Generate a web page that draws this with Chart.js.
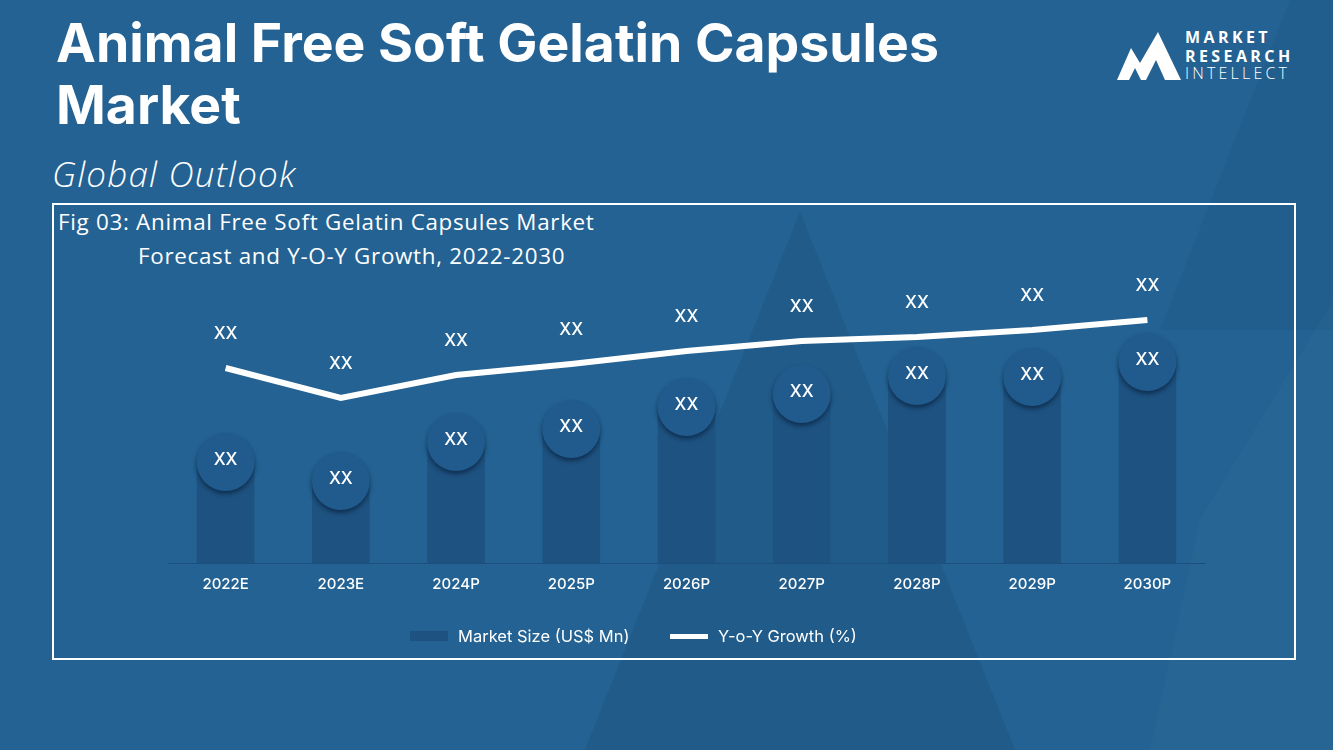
<!doctype html>
<html>
  <head>
    <title>Animal Free Soft Gelatin Capsules Market</title>
    <script src="https://cdn.jsdelivr.net/npm/chart.js@4.4.1/dist/chart.umd.min.js"></script>
    <style>
      html, body { margin: 0; padding: 0; }
      body { width: 1333px; height: 750px; overflow: hidden; position: relative; background: #236292; font-family: Inter, sans-serif; color: #fff; }
      #bg { position: absolute; left: 0; top: 0; }
      #title { position: absolute; left: 56px; top: 12px; font-family: Inter, sans-serif; font-weight: 700; font-size: 53.5px; line-height: 62px; letter-spacing: 0; }
      #outlook { position: absolute; left: 52px; top: 150px; font-family: "Open Sans", sans-serif; font-style: italic; font-weight: 300; font-size: 35px; letter-spacing: 1.2px; }
      #box { position: absolute; left: 52px; top: 203px; width: 1240px; height: 453px; border: 2px solid #fff; }
      #fig { position: absolute; left: 58px; top: 205px; font-family: "Open Sans", sans-serif; font-size: 22.4px; line-height: 34px; letter-spacing: 0.7px; }
      #logo { position: absolute; left: 1110px; top: 22px; }
      #chart { position: absolute; left: 0; top: 0; }
      .legend { position: absolute; top: 624px; font-size: 16.5px; line-height: 24px; }
      .sw { position: absolute; }
    </style>
  </head>
  <body>
    <svg id="bg" width="1333" height="750">
      <polygon points="800,212 585,750 1015,750" fill="rgba(18,55,95,0.16)" />
      <polygon points="1290,0 1333,0 1333,330 1160,330" fill="rgba(18,55,95,0.10)" />
      <polygon points="1200,520 1333,300 1333,750 1150,750" fill="rgba(255,255,255,0.02)" />
    </svg>
    <div id="title">Animal Free Soft Gelatin Capsules<br>Market</div>
    <div id="outlook">Global Outlook</div>
    <svg id="logo" width="190" height="66">
      <polygon points="7,58 21,26 30,41 48,10 71,58 55,58 46,38 36,58 31,58 25,46 19,58" fill="#fff" />
      <text x="75" y="21" font-family="Open Sans, sans-serif" font-weight="700" font-size="16" letter-spacing="3.4" fill="#fff">MARKET</text>
      <text x="75" y="40" font-family="Open Sans, sans-serif" font-weight="700" font-size="16" letter-spacing="3.4" fill="#fff">RESEARCH</text>
      <text x="75" y="57" font-family="Open Sans, sans-serif" font-weight="300" font-size="16" letter-spacing="3.2" fill="#fff">INTELLECT</text>
    </svg>
    <div id="box"></div>
    <div id="fig">Fig 03: Animal Free Soft Gelatin Capsules Market<br><span style="padding-left:80px">Forecast and Y-O-Y Growth, 2022-2030</span></div>
    <canvas id="chart" width="1333" height="750"></canvas>
    <div class="sw" style="left:410px; top:631px; width:38px; height:10px; background:#1e5280;"></div>
    <div class="legend" style="left:458px;">Market Size (US$ Mn)</div>
    <div class="sw" style="left:670px; top:634px; width:38px; height:5px; background:#fff;"></div>
    <div class="legend" style="left:718px;">Y-o-Y Growth (%)</div>
    <script>
      var years = ["2022E", "2023E", "2024P", "2025P", "2026P", "2027P", "2028P", "2029P", "2030P"];
      var marketSize = [10.1, 8.2, 12.1, 13.4, 15.6, 16.9, 18.7, 18.6, 20.1];
      var yoyGrowth = [19.5, 16.5, 18.8, 19.9, 21.2, 22.2, 22.6, 23.3, 24.3];
      var valueLabel = "XX";

      // circles with labels sitting on the top of every bar
      var bubblePlugin = {
        id: "bubbles",
        afterDatasetDraw: function (chart, args) {
          if (args.index !== 0) return;
          var ctx = chart.ctx;
          args.meta.data.forEach(function (bar) {
            ctx.save();
            ctx.shadowColor = "rgba(5,25,50,0.6)";
            ctx.shadowBlur = 4;
            ctx.shadowOffsetY = 3;
            ctx.beginPath();
            ctx.arc(bar.x, bar.y, 29, 0, Math.PI * 2);
            ctx.fillStyle = "#215b8d";
            ctx.fill();
            ctx.restore();
            ctx.save();
            ctx.fillStyle = "#fff";
            ctx.font = "500 17px Inter";
            ctx.textAlign = "center";
            ctx.textBaseline = "middle";
            ctx.fillText(valueLabel, bar.x, bar.y - 2);
            ctx.restore();
          });
        },
        afterDatasetsDraw: function (chart) {
          var ctx = chart.ctx;
          chart.getDatasetMeta(1).data.forEach(function (pt) {
            ctx.save();
            ctx.fillStyle = "#fff";
            ctx.font = "500 17px Inter";
            ctx.textAlign = "center";
            ctx.textBaseline = "middle";
            ctx.fillText(valueLabel, pt.x, pt.y - 34);
            ctx.restore();
          });
        },
      };

      var ctx = document.getElementById("chart").getContext("2d");
      var chart = new Chart(ctx, {
        type: "bar",
        data: {
          labels: years,
          datasets: [
            {
              label: "Market Size (US$ Mn)",
              data: marketSize,
              backgroundColor: "#1e5280",
              barPercentage: 0.5,
              categoryPercentage: 1.0,
              yAxisID: "y",
              order: 1,
            },
            {
              type: "line",
              label: "Y-o-Y Growth (%)",
              data: yoyGrowth,
              borderColor: "#fff",
              borderWidth: 6,
              pointRadius: 0,
              tension: 0,
              yAxisID: "y1",
              order: 0,
            },
          ],
        },
        options: {
          responsive: false,
          animation: false,
          layout: { padding: { left: 168, right: 128, top: 263, bottom: 145 } },
          plugins: { legend: { display: false }, tooltip: { enabled: false } },
          scales: {
            x: {
              grid: { display: false, drawTicks: false },
              border: { display: true, color: "#1d4f7e", width: 1 },
              ticks: { color: "#fff", padding: 12, font: { family: "Inter", size: 15, weight: 500 } },
            },
            y: { display: false, min: 0, max: 30 },
            y1: { display: false, min: 0, max: 30 },
          },
        },
        plugins: [bubblePlugin],
      });
    </script>
  </body>
</html>
